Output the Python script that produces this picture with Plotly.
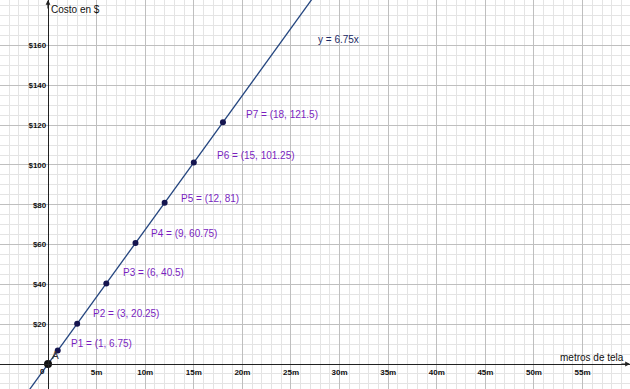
import plotly.graph_objects as go

# ---- data ----
slope = 6.75
point_names = ["P1", "P2", "P3", "P4", "P5", "P6", "P7"]
point_x = [1, 3, 6, 9, 12, 15, 18]
point_y = [6.75, 20.25, 40.5, 60.75, 81, 101.25, 121.5]
x_tick_vals = [5, 10, 15, 20, 25, 30, 35, 40, 45, 50, 55]
x_tick_text = ["5m", "10m", "15m", "20m", "25m", "30m", "35m", "40m", "45m", "50m", "55m"]
y_tick_vals = [20, 40, 60, 80, 100, 120, 140, 160]
y_tick_text = ["$20", "$40", "$60", "$80", "$100", "$120", "$140", "$160"]

# label pixel offsets (style)
label_dx = [11, 14, 15, 14, 14, 21, 21]
label_dy = [7, 10, 11, 10, 4, 7, 8]

x_range = [-4.94, 59.88]
y_range = [-12.56, 182.9]

FONT = "Liberation Sans, Arial, sans-serif"
PURPLE = "#7a1fbf"
NAVY = "#1c2a66"

fig = go.Figure()

# line y = 6.75x
line_x = [x_range[0], x_range[1]]
fig.add_trace(go.Scatter(x=line_x, y=[slope * v for v in line_x], mode="lines",
                         line=dict(color="#24457f", width=1.3), hoverinfo="skip",
                         showlegend=False))

# points
fig.add_trace(go.Scatter(x=point_x, y=point_y, mode="markers",
                         marker=dict(color="#15154f", size=6), showlegend=False))

# origin A
fig.add_trace(go.Scatter(x=[0], y=[0], mode="markers",
                         marker=dict(color="#111111", size=8), showlegend=False))

annotations = []
for name, px, py, dx, dy in zip(point_names, point_x, point_y, label_dx, label_dy):
    vx = f"{px:g}"
    vy = f"{py:g}"
    annotations.append(dict(x=px, y=py, text=f"{name} = ({vx}, {vy})", showarrow=False,
                            xanchor="left", yanchor="middle", xshift=dx, yshift=dy,
                            font=dict(family=FONT, size=10, color=PURPLE)))

annotations += [
    dict(x=0, y=0, text="A", showarrow=False, xanchor="left", yanchor="middle",
         xshift=2, yshift=9, font=dict(family=FONT, size=10, color="#333333")),
    dict(x=0, y=0, text="<b>0</b>", showarrow=False, xanchor="center", yanchor="middle",
         xshift=-6, yshift=-7, font=dict(family=FONT, size=8, color="#111111")),
    dict(x=27.6, y=163.2, text="y = 6.75x", showarrow=False, xanchor="left",
         yanchor="middle", font=dict(family=FONT, size=10, color=NAVY)),
    dict(x=0, y=y_range[1], text="Costo en $", showarrow=False, xanchor="left",
         yanchor="top", xshift=1, yshift=-2, font=dict(family=FONT, size=10, color="#111111")),
    dict(x=x_range[1], y=0, text="metros de tela", showarrow=False, xanchor="right",
         yanchor="bottom", xshift=-4, yshift=-1, font=dict(family=FONT, size=10, color="#111111")),
    # arrow heads
    dict(x=0, y=y_range[1], ax=0, ay=10, xref="x", yref="y", showarrow=True,
         arrowhead=2, arrowsize=0.8, arrowwidth=1.2, arrowcolor="#222222", text=""),
    dict(x=x_range[1], y=0, ax=-10, ay=0, xref="x", yref="y", showarrow=True,
         arrowhead=2, arrowsize=0.8, arrowwidth=1.2, arrowcolor="#222222", text=""),
]

x_pos = (0 - y_range[0]) / (y_range[1] - y_range[0])
y_pos = (0 - x_range[0]) / (x_range[1] - x_range[0])

tick_font = dict(family=FONT, size=8, color="#111111", weight="bold")

fig.update_layout(
    width=630, height=389,
    margin=dict(l=0, r=0, t=0, b=0),
    paper_bgcolor="white", plot_bgcolor="white",
    font=dict(family=FONT),
    annotations=annotations,
    xaxis=dict(range=x_range, anchor="free", position=x_pos, showline=True,
               linecolor="#222222", linewidth=1.3, zeroline=False,
               tickmode="array", tickvals=x_tick_vals, ticktext=x_tick_text,
               tickfont=tick_font,
               ticks="", showgrid=True, gridcolor="#bfbfbf", gridwidth=1,
               minor=dict(dtick=1, tick0=0, showgrid=True, gridcolor="#e4e4e4", gridwidth=1)),
    yaxis=dict(range=y_range, anchor="free", position=y_pos, showline=True,
               linecolor="#222222", linewidth=1.3, zeroline=False,
               tickmode="array", tickvals=y_tick_vals, ticktext=y_tick_text,
               tickfont=tick_font,
               ticks="", showgrid=True, gridcolor="#bfbfbf", gridwidth=1,
               minor=dict(dtick=5, tick0=0, showgrid=True, gridcolor="#e4e4e4", gridwidth=1)),
)

fig.write_html("out.html", config={"displayModeBar": False},
               post_script="document.body.style.margin='0';document.body.style.padding='0';")
